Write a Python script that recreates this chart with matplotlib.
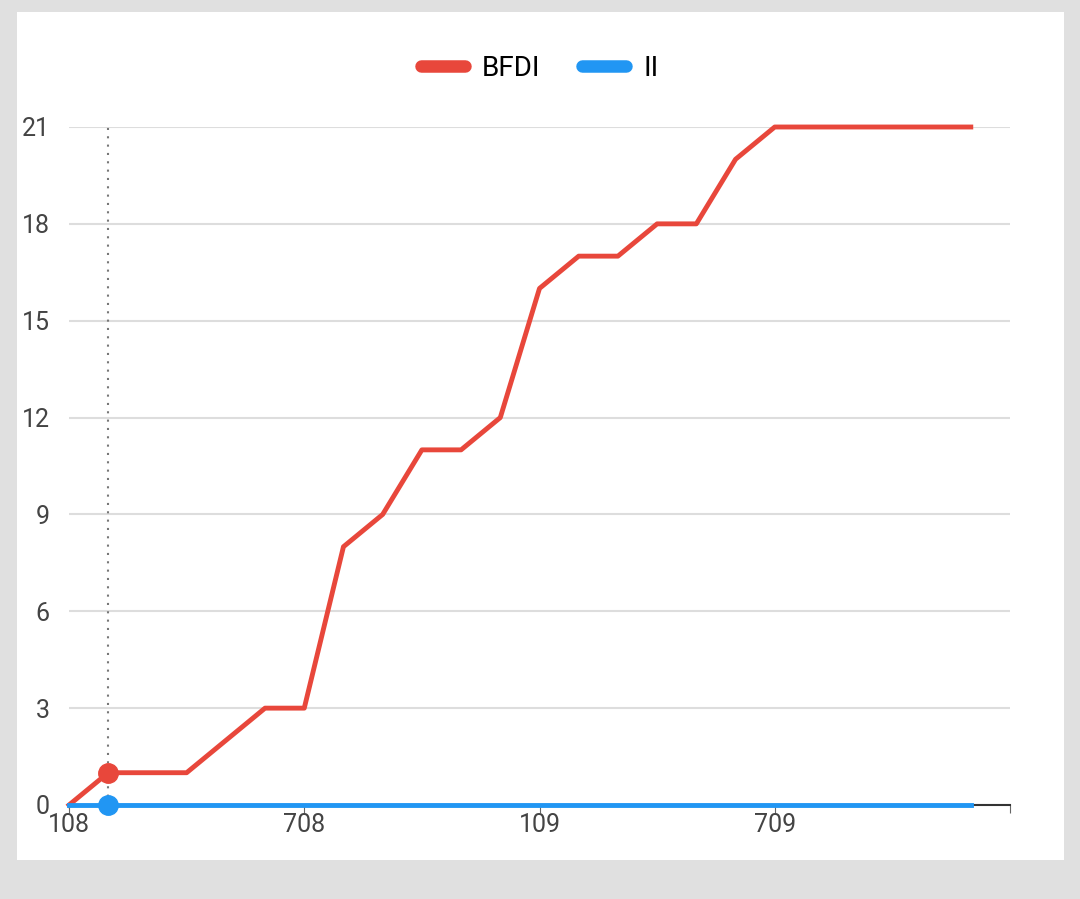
import matplotlib
matplotlib.use("Agg")
import matplotlib.pyplot as plt
from matplotlib.patches import Rectangle

bfdi = [0, 1, 1, 1, 2, 3, 3, 8, 9, 11, 11, 12, 16, 17, 17, 18, 18, 20, 21, 21, 21, 21, 21, 21]
ii = [0] * 24
tick_pos = [0, 6, 12, 18, 24]
tick_labels = ["108", "708", "109", "709", ""]
yticks = [0, 3, 6, 9, 12, 15, 18, 21]

plt.rcParams['font.family'] = ['Roboto', 'DejaVu Sans']
fig = plt.figure(figsize=(10.8, 8.99), dpi=100, facecolor="#e0e0e0")
bg = Rectangle((17/1080, 1-860/899), (1064-17)/1080, (860-12)/899,
               transform=fig.transFigure, facecolor="white", edgecolor="none", zorder=-10)
fig.add_artist(bg)
ax = fig.add_axes([69/1080, 94/899, 941/1080, 678/899])
ax.set_zorder(5)
ax.set_facecolor("none")
x = list(range(len(bfdi)))
ax.plot(x, bfdi, color="#e8473b", lw=3.5, label="BFDI", zorder=3, clip_on=False)
ax.plot(x, ii, color="#2196f3", lw=3.5, label="II", zorder=4, clip_on=False)
ax.axvline(1, color="#777777", ls=(0, (1, 3)), lw=1.5, zorder=2)
ax.plot([1], [bfdi[1]], 'o', color="#e8473b", ms=14, zorder=5, clip_on=False)
ax.plot([1], [ii[1]], 'o', color="#2196f3", ms=14, zorder=5, clip_on=False)
ax.set_xlim(0, 24)
ax.set_ylim(0, 21)
ax.set_yticks(yticks)
ax.set_xticks(tick_pos)
ax.set_xticklabels(tick_labels)
ax.grid(axis='y', color="#dddddd", lw=1.5)
for s in ["top", "right", "left"]:
    ax.spines[s].set_visible(False)
ax.spines["bottom"].set_color("#333333")
ax.spines["bottom"].set_linewidth(1.5)
ax.tick_params(axis='y', length=0, labelsize=18, colors="#444444", pad=14)
ax.tick_params(axis='x', length=6, labelsize=18, colors="#444444", pad=0, color="#666666")
leg = ax.legend(loc="lower center", bbox_to_anchor=(0.5, 1.03), ncol=2, frameon=False,
                fontsize=20, handlelength=1.6, handletextpad=0.6, columnspacing=1.5)
for h in leg.get_lines():
    h.set_linewidth(9)
    h.set_solid_capstyle("round")
fig.savefig("out.png", dpi=100, facecolor=fig.get_facecolor())
